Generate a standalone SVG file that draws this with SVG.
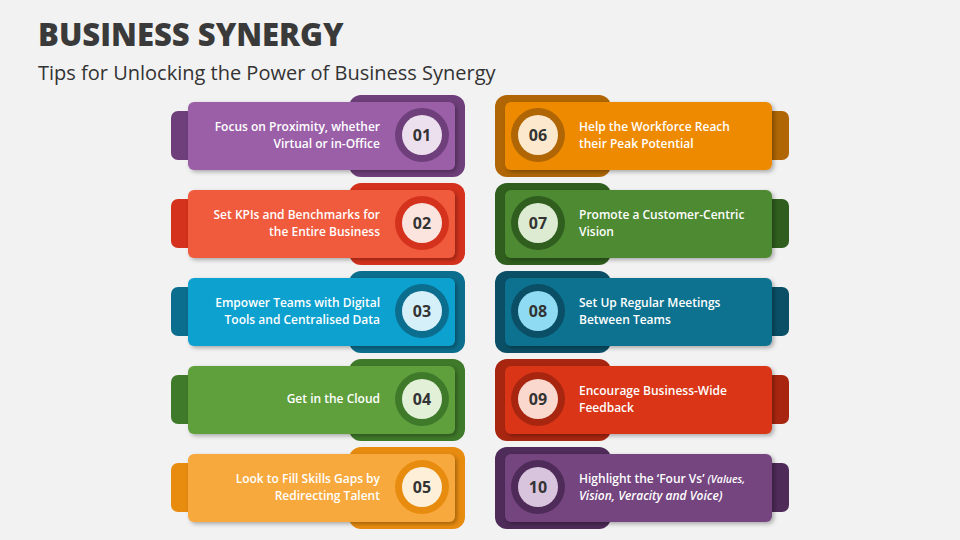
<svg xmlns="http://www.w3.org/2000/svg" width="960" height="540" viewBox="0 0 960 540">
<style>
.t{font-family:"Open Sans","Liberation Sans",sans-serif;font-size:12px;font-weight:600;fill:#fff}
.n{font-family:"Open Sans","Liberation Sans",sans-serif;font-size:16px;font-weight:700;fill:#333;text-anchor:middle}
.l{text-anchor:end}
</style>
<defs>
<filter id="sh" x="-10%" y="-20%" width="130%" height="150%"><feDropShadow dx="2" dy="2" stdDeviation="2" flood-opacity="0.3"/></filter>
</defs>
<rect width="960" height="540" fill="#f2f2f2"/>
<text x="38" y="46" font-family="'Open Sans','Liberation Sans',sans-serif" font-size="31" font-weight="800" fill="#3a3a3a">BUSINESS SYNERGY</text>
<text x="38" y="80" font-family="'Open Sans','Liberation Sans',sans-serif" font-size="20" fill="#333">Tips for Unlocking the Power of Business Synergy</text>
<g id="n01">
<rect x="349" y="95" width="116" height="82" rx="12" fill="#6E3F7A"/><rect x="171" y="111" width="30" height="49" rx="7" fill="#6E3F7A"/>
<rect x="188" y="102" width="267" height="68" rx="6" fill="#9B5FA8" filter="url(#sh)"/>
<circle cx="422" cy="135" r="27" fill="#6E3F7A"/><circle cx="422" cy="135" r="20" fill="#ECE0EF"/>
<text class="n" x="422" y="141">01</text>
<text class="t l" x="380" y="131">Focus on Proximity, whether</text><text class="t l" x="380" y="148">Virtual or in-Office</text></g>
<g id="n02">
<rect x="349" y="183" width="116" height="82" rx="12" fill="#D4321C"/><rect x="171" y="199" width="30" height="49" rx="7" fill="#D4321C"/>
<rect x="188" y="190" width="267" height="68" rx="6" fill="#F05A3C" filter="url(#sh)"/>
<circle cx="422" cy="223" r="27" fill="#D4321C"/><circle cx="422" cy="223" r="20" fill="#FCE4DE"/>
<text class="n" x="422" y="229">02</text>
<text class="t l" x="380" y="219">Set KPIs and Benchmarks for</text><text class="t l" x="380" y="236">the Entire Business</text></g>
<g id="n03">
<rect x="349" y="271" width="116" height="82" rx="12" fill="#0C6E8E"/><rect x="171" y="287" width="30" height="49" rx="7" fill="#0C6E8E"/>
<rect x="188" y="278" width="267" height="68" rx="6" fill="#11A1D0" filter="url(#sh)"/>
<circle cx="422" cy="311" r="27" fill="#0C6E8E"/><circle cx="422" cy="311" r="20" fill="#D6F0FA"/>
<text class="n" x="422" y="317">03</text>
<text class="t l" x="380" y="307">Empower Teams with Digital</text><text class="t l" x="380" y="324">Tools and Centralised Data</text></g>
<g id="n04">
<rect x="349" y="359" width="116" height="82" rx="12" fill="#3F7A2A"/><rect x="171" y="375" width="30" height="49" rx="7" fill="#3F7A2A"/>
<rect x="188" y="366" width="267" height="68" rx="6" fill="#5FA03E" filter="url(#sh)"/>
<circle cx="422" cy="399" r="27" fill="#3F7A2A"/><circle cx="422" cy="399" r="20" fill="#E2F0D8"/>
<text class="n" x="422" y="405">04</text>
<text class="t l" x="380" y="403">Get in the Cloud</text></g>
<g id="n05">
<rect x="349" y="447" width="116" height="82" rx="12" fill="#E88C10"/><rect x="171" y="463" width="30" height="49" rx="7" fill="#E88C10"/>
<rect x="188" y="454" width="267" height="68" rx="6" fill="#F7A93C" filter="url(#sh)"/>
<circle cx="422" cy="487" r="27" fill="#E88C10"/><circle cx="422" cy="487" r="20" fill="#FDEFD8"/>
<text class="n" x="422" y="493">05</text>
<text class="t l" x="380" y="483">Look to Fill Skills Gaps by</text><text class="t l" x="380" y="500">Redirecting Talent</text></g>
<g id="n06">
<rect x="495" y="95" width="116" height="82" rx="12" fill="#B06604"/><rect x="759" y="111" width="30" height="49" rx="7" fill="#B06604"/>
<rect x="505" y="102" width="267" height="68" rx="6" fill="#EE8A06" filter="url(#sh)"/>
<circle cx="538" cy="135" r="27" fill="#B06604"/><circle cx="538" cy="135" r="20" fill="#FCE8CC"/>
<text class="n" x="538" y="141">06</text>
<text class="t" x="579" y="131">Help the Workforce Reach</text><text class="t" x="579" y="148">their Peak Potential</text></g>
<g id="n07">
<rect x="495" y="183" width="116" height="82" rx="12" fill="#2F5E1E"/><rect x="759" y="199" width="30" height="49" rx="7" fill="#2F5E1E"/>
<rect x="505" y="190" width="267" height="68" rx="6" fill="#4E8A30" filter="url(#sh)"/>
<circle cx="538" cy="223" r="27" fill="#2F5E1E"/><circle cx="538" cy="223" r="20" fill="#DCEBD2"/>
<text class="n" x="538" y="229">07</text>
<text class="t" x="579" y="219">Promote a Customer-Centric</text><text class="t" x="579" y="236">Vision</text></g>
<g id="n08">
<rect x="495" y="271" width="116" height="82" rx="12" fill="#0A4F66"/><rect x="759" y="287" width="30" height="49" rx="7" fill="#0A4F66"/>
<rect x="505" y="278" width="267" height="68" rx="6" fill="#0D7290" filter="url(#sh)"/>
<circle cx="538" cy="311" r="27" fill="#0A4F66"/><circle cx="538" cy="311" r="20" fill="#8FDBF3"/>
<text class="n" x="538" y="317">08</text>
<text class="t" x="579" y="307">Set Up Regular Meetings</text><text class="t" x="579" y="324">Between Teams</text></g>
<g id="n09">
<rect x="495" y="359" width="116" height="82" rx="12" fill="#A82610"/><rect x="759" y="375" width="30" height="49" rx="7" fill="#A82610"/>
<rect x="505" y="366" width="267" height="68" rx="6" fill="#D93414" filter="url(#sh)"/>
<circle cx="538" cy="399" r="27" fill="#A82610"/><circle cx="538" cy="399" r="20" fill="#FAD8CE"/>
<text class="n" x="538" y="405">09</text>
<text class="t" x="579" y="395">Encourage Business-Wide</text><text class="t" x="579" y="412">Feedback</text></g>
<g id="n10">
<rect x="495" y="447" width="116" height="82" rx="12" fill="#4E2B58"/><rect x="759" y="463" width="30" height="49" rx="7" fill="#4E2B58"/>
<rect x="505" y="454" width="267" height="68" rx="6" fill="#74447F" filter="url(#sh)"/>
<circle cx="538" cy="487" r="27" fill="#4E2B58"/><circle cx="538" cy="487" r="20" fill="#D9C4DE"/>
<text class="n" x="538" y="493">10</text>
<text class="t" x="579" y="483">Highlight the ‘Four Vs’ <tspan font-style="italic" font-size="10.5">(Values,</tspan></text><text class="t" x="579" y="500" font-style="italic" font-size="10.5">Vision, Veracity and Voice)</text></g>
<g id="connectors"/>
</svg>
